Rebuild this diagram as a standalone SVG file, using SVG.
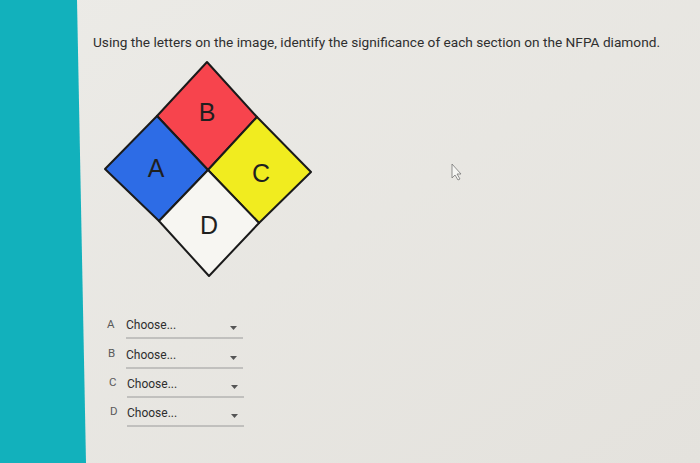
<svg xmlns="http://www.w3.org/2000/svg" width="700" height="463" viewBox="0 0 700 463">
<defs>
<linearGradient id="bg" x1="0" y1="0" x2="1" y2="1">
<stop offset="0" stop-color="#ecebe7"/>
<stop offset="1" stop-color="#e4e2dd"/>
</linearGradient>
<style>
.q{font-family:Roboto,"Liberation Sans",sans-serif;font-size:13px;fill:#2f2f2f}
.big{font-family:"Liberation Sans",Arial,sans-serif;font-size:25px;fill:#1f1f1f;text-anchor:middle}
.sec{stroke:#1a1a1a;stroke-width:2;stroke-linejoin:round}
.lab{font-family:Roboto,"Liberation Sans",sans-serif;font-size:11.5px;fill:#5a5a5a}
.ch{font-family:Roboto,"Liberation Sans",sans-serif;font-size:12px;fill:#2e2e2e}
.ul{stroke:#9a9a9a;stroke-width:1}
.ar{fill:#555}
</style>
</defs>
<rect width="700" height="463" fill="url(#bg)"/>
<polygon points="0,0 77,0 86,463 0,463" fill="#12b1bc"/>
<text class="q" x="93" y="47" textLength="567" lengthAdjust="spacingAndGlyphs">Using the letters on the image, identify the significance of each section on the NFPA diamond.</text>
<g id="diamond">
<g id="secB"><polygon class="sec" points="207,62 257,117 208,170 157,116" fill="#f7444d"/><text class="big" x="207" y="121">B</text></g>
<g id="secA"><polygon class="sec" points="157,116 208,170 159,221 105,169" fill="#2d6ce6"/><text class="big" x="156" y="177">A</text></g>
<g id="secC"><polygon class="sec" points="257,117 311,172 259,223 208,170" fill="#f1ec1f"/><text class="big" x="261" y="182">C</text></g>
<g id="secD"><polygon class="sec" points="208,170 259,223 209,276 159,221" fill="#f7f6f2"/><text class="big" x="209" y="234">D</text></g>
</g>
<g id="rowA"><text class="lab" x="107" y="328">A</text><text class="ch" x="126" y="329">Choose...</text><path class="ar" d="M230,326 h7 l-3.5,4z"/><line class="ul" x1="126" y1="338" x2="243" y2="338"/></g>
<g id="rowB"><text class="lab" x="108" y="357">B</text><text class="ch" x="126" y="359">Choose...</text><path class="ar" d="M230,356 h7 l-3.5,4z"/><line class="ul" x1="126" y1="368" x2="243" y2="368"/></g>
<g id="rowC"><text class="lab" x="109" y="386">C</text><text class="ch" x="127" y="388">Choose...</text><path class="ar" d="M231,385 h7 l-3.5,4z"/><line class="ul" x1="127" y1="397" x2="244" y2="397"/></g>
<g id="rowD"><text class="lab" x="110" y="415">D</text><text class="ch" x="127" y="417">Choose...</text><path class="ar" d="M231,414 h7 l-3.5,4z"/><line class="ul" x1="127" y1="426" x2="244" y2="426"/></g>
<g id="cursor"><path d="M452,164 l0,14 l3,-3 l3,5 l2,-1 l-3,-5 l4,0 z" fill="#f5f5f2" stroke="#777" stroke-width="0.8"/></g>
</svg>
